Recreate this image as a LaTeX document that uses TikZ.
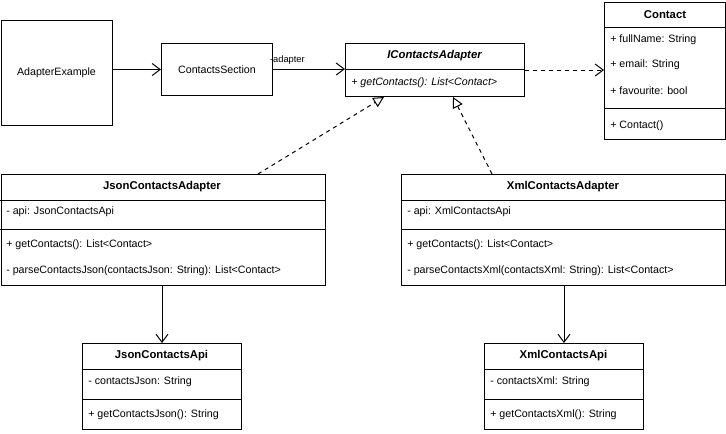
\documentclass[tikz,border=0pt]{standalone}
\usepackage{fontspec}
\setmainfont{Liberation Sans}
\usetikzlibrary{arrows.meta, positioning, calc}
\tikzstyle{cls} = [rectangle, draw=black, line width=0.75pt, fill=white, anchor=north west, inner sep=0pt]
\tikzstyle{head} = [font=\fontsize{8.5}{10}\selectfont\bfseries]
\tikzstyle{member} = [anchor=west, font=\fontsize{8}{10}\selectfont, inner sep=0pt]
\tikzstyle{arrow} = [line width=0.75pt, -{Straight Barb[length=6pt,width=9pt]}]
\tikzstyle{realize} = [line width=0.75pt, dashed, -{Triangle[open,length=8pt,width=8pt]}]
\begin{document}
\begin{tikzpicture}[x=0.75pt, y=-0.75pt]
\useasboundingbox (0,0) rectangle (726,433);
% plain boxes
\node [cls, minimum width=111*0.75pt, minimum height=105*0.75pt] (example) at (0.5,20) {};
\node [member, anchor=center] at (example.center) {AdapterExample};
\node [cls, minimum width=111*0.75pt, minimum height=52*0.75pt] (section) at (161,43) {};
\node [member, anchor=center] at (section.center) {ContactsSection};
% interface
\node [cls, minimum width=179*0.75pt, minimum height=53*0.75pt] (iadapter) at (345,43) {};
\draw [line width=0.75pt] (345,69) -- (524,69);
\node [head, font=\fontsize{8.5}{10}\selectfont\bfseries\itshape] at (434.5,56) {IContactsAdapter};
\node [member, font=\fontsize{8}{10}\selectfont\itshape] at (351,83) {+ getContacts(): List<Contact>};
% model
\node [cls, minimum width=121*0.75pt, minimum height=137*0.75pt] (contact) at (604,2) {};
\draw [line width=0.75pt] (604,27) -- (725.5,27);
\draw [line width=0.75pt] (604,108) -- (725.5,108);
\node [head] at (665,15) {Contact};
\node [member] at (610,40) {+ fullName: String};
\node [member] at (610,65) {+ email: String};
\node [member] at (610,91) {+ favourite: bool};
\node [member] at (610,126) {+ Contact()};
% adapters
\node [cls, minimum width=324*0.75pt, minimum height=111*0.75pt] (jsonadapter) at (0.5,174) {};
\draw [line width=0.75pt] (0.5,200) -- (324.5,200);
\draw [line width=0.75pt] (0.5,229) -- (324.5,229);
\node [head] at (162,187) {JsonContactsAdapter};
\node [member] at (6,212) {- api: JsonContactsApi};
\node [member] at (6,245) {+ getContacts(): List<Contact>};
\node [member] at (6,271) {- parseContactsJson(contactsJson: String): List<Contact>};
\node [cls, minimum width=324*0.75pt, minimum height=111*0.75pt] (xmladapter) at (401,174) {};
\draw [line width=0.75pt] (401,200) -- (725,200);
\draw [line width=0.75pt] (401,229) -- (725,229);
\node [head] at (563,187) {XmlContactsAdapter};
\node [member] at (407,212) {- api: XmlContactsApi};
\node [member] at (407,245) {+ getContacts(): List<Contact>};
\node [member] at (407,271) {- parseContactsXml(contactsXml: String): List<Contact>};
% apis
\node [cls, minimum width=159*0.75pt, minimum height=86*0.75pt] (jsonapi) at (82,343) {};
\draw [line width=0.75pt] (82,369) -- (241,369);
\draw [line width=0.75pt] (82,399) -- (241,399);
\node [head] at (161.5,356) {JsonContactsApi};
\node [member] at (88,382) {- contactsJson: String};
\node [member] at (88,415) {+ getContactsJson(): String};
\node [cls, minimum width=159*0.75pt, minimum height=86*0.75pt] (xmlapi) at (484,343) {};
\draw [line width=0.75pt] (484,369) -- (643,369);
\draw [line width=0.75pt] (484,399) -- (643,399);
\node [head] at (563.5,356) {XmlContactsApi};
\node [member] at (490,382) {- contactsXml: String};
\node [member] at (490,415) {+ getContactsXml(): String};
% connectors
\draw [arrow] (example.east |- section.west) -- (section.west);
\draw [arrow] (section.east |- 0,69) -- node [pos=0.2, above, font=\fontsize{7}{8}\selectfont] {-adapter} (iadapter.west |- 0,69);
\draw [arrow, dashed] (iadapter.east) -- (contact.west |- iadapter.east);
\draw [realize] (jsonadapter.north -| 258,0) -- (iadapter.south -| 384,0);
\draw [realize] (xmladapter.north -| 492,0) -- (iadapter.south -| 453,0);
\draw [arrow] (jsonadapter.south -| jsonapi.north) -- (jsonapi.north);
\draw [arrow] (xmladapter.south -| xmlapi.north) -- (xmlapi.north);
\end{tikzpicture}
\end{document}
